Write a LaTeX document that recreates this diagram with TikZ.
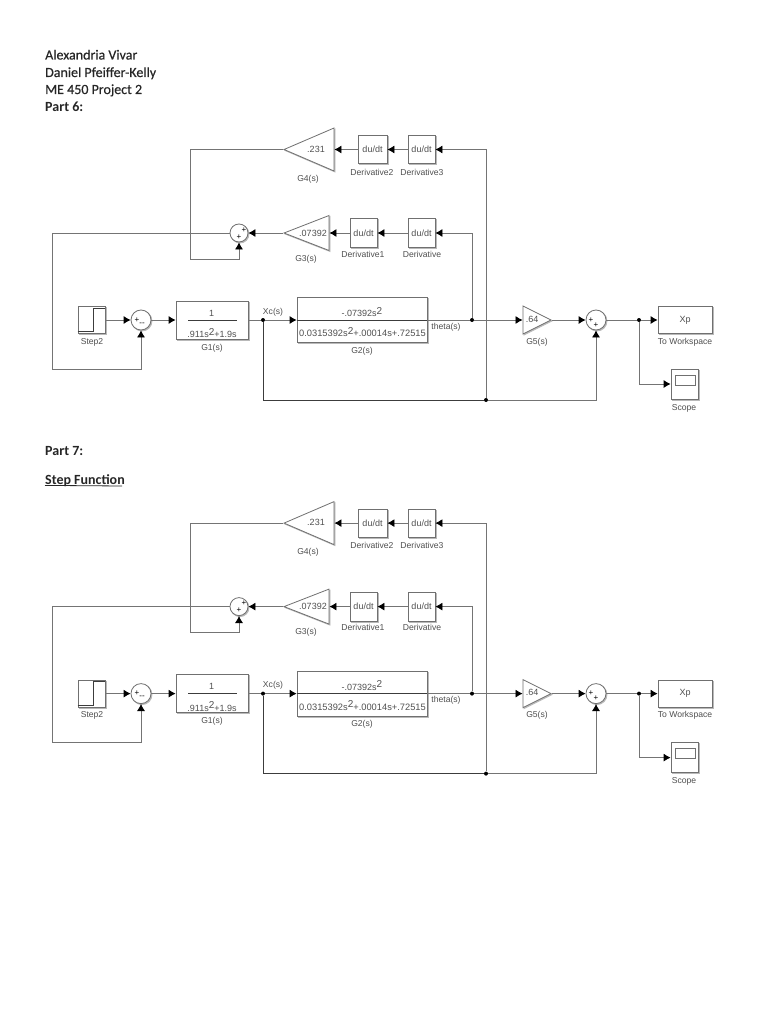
\documentclass[tikz,border=0pt]{standalone}
\usepackage{fontspec}
\setmainfont{Carlito}
\newfontfamily\simfont{Liberation Sans}
\newfontfamily\medfont[FakeBold=0.35]{Carlito}
\usetikzlibrary{arrows.meta,shapes.geometric,shadows}
\definecolor{wire}{HTML}{747474}
\definecolor{wiredark}{HTML}{3C3C3C}
\definecolor{edge}{HTML}{707070}
\definecolor{simtext}{HTML}{505050}
\newcommand{\pw}[1]{\raisebox{2.6pt}{\fontsize{10}{10}\selectfont #1}}
\tikzset{
  x=1pt,y=-1pt,
  doc/.style={anchor=base west,inner sep=0,font=\medfont\fontsize{14}{15}\selectfont,text=black!85},
  dochead/.style={anchor=base west,inner sep=0,font=\bfseries\fontsize{14}{15}\selectfont,text=black!85},
  shade box/.style={copy shadow={shadow xshift=1pt,shadow yshift=-1pt,draw=gray!55,fill=gray!55}},
  block/.style={draw=edge,fill=white,line width=.8pt,rectangle,inner sep=0,shade box,text=simtext,font=\simfont\fontsize{9}{10}\selectfont},
  sumblock/.style={draw=edge,fill=white,line width=.8pt,circle,minimum size=#1,inner sep=0,shade box},
  gainblock/.style={draw=edge,fill=white,line width=.8pt,isosceles triangle,isosceles triangle stretches,shape border rotate=#1,inner sep=0,anchor=apex,shade box},
  caption/.style={inner sep=0,text=simtext,font=\simfont\fontsize{8.6}{10}\selectfont},
  inner/.style={inner sep=0,text=simtext,font=\simfont\fontsize{9}{10}\selectfont},
  widetext/.style={inner sep=0,text=simtext,font=\simfont\fontsize{9.3}{10}\selectfont},
  sign/.style={inner sep=0,text=black,font=\simfont\fontsize{8}{8}\selectfont},
  wireline/.style={draw=wire,line width=.8pt},
  signal/.style={wireline,-{Latex[length=7pt,width=8pt,color=black]}},
  junction/.style={circle,fill=black,inner sep=0,minimum size=4pt},
}
\newcommand{\blockdiagram}[2]{%
\begin{scope}[name prefix=#1-,shift={(0,#2)}]
  % blocks
  \node[gainblock=180,minimum width=43,minimum height=50] (g4) at (283,149.5) {};
  \node[gainblock=180,minimum width=35,minimum height=45] (g3) at (283,233) {};
  \node[block,minimum width=29,minimum height=28] (d2) at (372.5,149.5) {du/dt};
  \node[block,minimum width=27,minimum height=28] (d3) at (421.5,149.5) {du/dt};
  \node[block,minimum width=27,minimum height=29] (d1) at (363.5,233) {du/dt};
  \node[block,minimum width=27,minimum height=29] (d0) at (421.5,233) {du/dt};
  \node[sumblock=18] (s1) at (239,233) {};
  \node[sumblock=20] (s2) at (141,320) {};
  \node[sumblock=20] (s3) at (596,320) {};
  \node[block,minimum width=27,minimum height=27] (step) at (91.5,320) {};
  \node[block,minimum width=72,minimum height=38] (g1) at (212,320) {};
  \node[block,minimum width=130,minimum height=45] (g2) at (362,320) {};
  \node[gainblock=0,minimum width=28,minimum height=28] (g5) at (552,320) {};
  \node[block,minimum width=54,minimum height=27] (xp) at (685,320) {Xp};
  \node[block,minimum width=27,minimum height=30] (scope) at (684.5,384) {};
  \node[draw=edge,fill=white,line width=.7pt,minimum width=20,minimum height=10,inner sep=0] (screen) at (685,380) {};
  % block contents
  \node[inner] (k4) at (316,149) {.231};
  \node[inner] (k3) at (313,233) {.07392};
  \node[inner] (k5) at (532,319) {.64};
  \node[inner] (n1) at (211.5,313) {1};
  \node[inner] (m1) at (212,333) {.911s\pw{2}+1.9s};
  \node[inner] (n2) at (362,312) {-.07392s\pw{2}};
  \node[widetext] (m2) at (362.5,332) {0.0315392s\pw{2}+.00014s+.72515};
  \draw[wiredark,line width=.8pt] (188,320) -- (237,320);
  \draw[wiredark,line width=.8pt] (g2.west) -- (g2.east);
  \draw[wiredark,line width=.9pt] (step.south west) ++(0,-2) -| (93,308) -- (105,308);
  % signs
  \node[sign] (p1) at (244,230) {+};
  \node[sign] (p2) at (239,237) {+};
  \node[sign] (p3) at (137,320) {+};
  \node[sign] (p4) at (142,324) {--};
  \node[sign] (p5) at (591,320) {+};
  \node[sign] (p6) at (596,325) {+};
  % captions
  \node[caption] (c1) at (308,179) {G4(s)};
  \node[caption] (c2) at (372,172) {Derivative2};
  \node[caption] (c3) at (422,172) {Derivative3};
  \node[caption] (c4) at (306,259) {G3(s)};
  \node[caption] (c5) at (363,254) {Derivative1};
  \node[caption] (c6) at (422,254) {Derivative};
  \node[caption] (c7) at (92,342) {Step2};
  \node[caption] (c8) at (212,348) {G1(s)};
  \node[caption] (c9) at (362,351) {G2(s)};
  \node[caption] (c10) at (537,342) {G5(s)};
  \node[caption] (c11) at (685,342) {To Workspace};
  \node[caption] (c12) at (684,408) {Scope};
  \node[caption] (c13) at (273,312) {Xc(s)};
  \node[caption] (c14) at (446,327) {theta(s)};
  % junctions
  \node[junction] (jx) at (263,320) {};
  \node[junction] (jt) at (472,320) {};
  \node[junction] (jb) at (486,400) {};
  \node[junction] (jo) at (639,320) {};
  % connectors
  \draw[signal] (step.east) -- (s2.west);
  \draw[signal] (s2.east) -- (g1.west);
  \draw[wireline] (g1.east) -- (jx);
  \draw[signal] (jx) -- (g2.west);
  \draw[wireline] (g2.east) -- (jt);
  \draw[signal] (jt) -- (g5.lower side);
  \draw[signal] (g5.apex) -- (s3.west);
  \draw[wireline] (s3.east) -- (jo);
  \draw[signal] (jo) -- (xp.west);
  \draw[signal] (jo) |- (scope.west);
  \draw[signal] (jt) |- (d0.east);
  \draw[signal] (d0.west) -- (d1.east);
  \draw[signal] (d1.west) -- (g3.lower side);
  \draw[signal] (g3.apex) -- (s1.east);
  \draw[signal] (jb) |- (d3.east);
  \draw[signal] (d3.west) -- (d2.east);
  \draw[signal] (d2.west) -- (g4.lower side);
  \draw[signal] (g4.apex) -- (190,149.5) |- (239,259) -- (s1.south);
  \draw[signal] (s1.west) -- (52,233) |- (141,369) -- (s2.south);
  \draw[draw=wiredark,line width=.8pt] (jx) |- (jb);
  \draw[signal] (jb) -| (s3.south);
\end{scope}}
\begin{document}
\begin{tikzpicture}
  \useasboundingbox (0,0) rectangle (768,1024);
  \fill[white] (0,0) rectangle (768,1024);
  \node[doc] (t1) at (45,59.5) {Alexandria Vivar};
  \node[doc] (t2) at (45,77) {Daniel Pfeiffer-Kelly};
  \node[doc] (t3) at (45,94) {ME 450 Project 2};
  \node[dochead] (t4) at (45,112) {Part 6:};
  \node[dochead] (t5) at (45,455) {Part 7:};
  \node[dochead] (t6) at (45,484) {Step Function};
  \draw[black!85,line width=.8pt] (t6.south west) ++(0,-1) -- (122,486);
  \blockdiagram{a}{0}
  \blockdiagram{b}{373.6}
\end{tikzpicture}
\end{document}
